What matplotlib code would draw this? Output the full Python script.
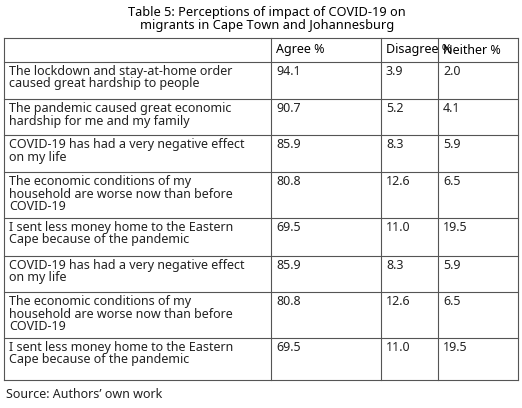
import matplotlib
matplotlib.use("Agg")
import matplotlib.pyplot as plt

title = "Table 5: Perceptions of impact of COVID-19 on\nmigrants in Cape Town and Johannesburg"
headers = ["", "Agree %", "Disagree %", "Neither %"]
statements = [
    "The lockdown and stay-at-home order\ncaused great hardship to people",
    "The pandemic caused great economic\nhardship for me and my family",
    "COVID-19 has had a very negative effect\non my life",
    "The economic conditions of my\nhousehold are worse now than before\nCOVID-19",
    "I sent less money home to the Eastern\nCape because of the pandemic",
    "COVID-19 has had a very negative effect\non my life",
    "The economic conditions of my\nhousehold are worse now than before\nCOVID-19",
    "I sent less money home to the Eastern\nCape because of the pandemic",
]
agree = ["94.1", "90.7", "85.9", "80.8", "69.5", "85.9", "80.8", "69.5"]
disagree = ["3.9", "5.2", "8.3", "12.6", "11.0", "8.3", "12.6", "11.0"]
neither = ["2.0", "4.1", "5.9", "6.5", "19.5", "5.9", "6.5", "19.5"]
source = "Source: Authors\u2019 own work"

W, H = 522, 408
fig = plt.figure(figsize=(W/100, H/100), dpi=100)
ax = fig.add_axes([0, 0, 1, 1])
ax.set_xlim(0, W); ax.set_ylim(H, 0); ax.axis("off")
fam = ["Noto Sans", "DejaVu Sans"]
fs = 9.0
col_x = [4, 271, 381, 438, 518]
row_y = [38, 62, 99, 135, 172, 218, 256, 292, 338, 380]
lc = "#555555"
for x in col_x:
    ax.plot([x, x], [row_y[0], row_y[-1]], color=lc, lw=0.8)
for y in row_y:
    ax.plot([col_x[0], col_x[-1]], [y, y], color=lc, lw=0.8)
ax.text(W/2 + 6, 19, title, ha="center", va="center", fontsize=9.2,
        fontweight="bold", family=fam, linespacing=1.0)
for j, h in enumerate(headers):
    ax.text(col_x[j] + 5, (row_y[0] + row_y[1]) / 2, h, ha="left", va="center",
            fontsize=fs, fontweight="bold", family=fam)
for i in range(len(statements)):
    y0 = row_y[i+1] + 3
    vals = [statements[i], agree[i], disagree[i], neither[i]]
    for j, v in enumerate(vals):
        ax.text(col_x[j] + 5, y0, v, ha="left", va="top", fontsize=fs,
                family=fam, linespacing=0.95, color="#222222")
ax.text(6, 394, source, ha="left", va="center", fontsize=fs, family=fam, color="#222222")
fig.savefig("out.png", dpi=100)
